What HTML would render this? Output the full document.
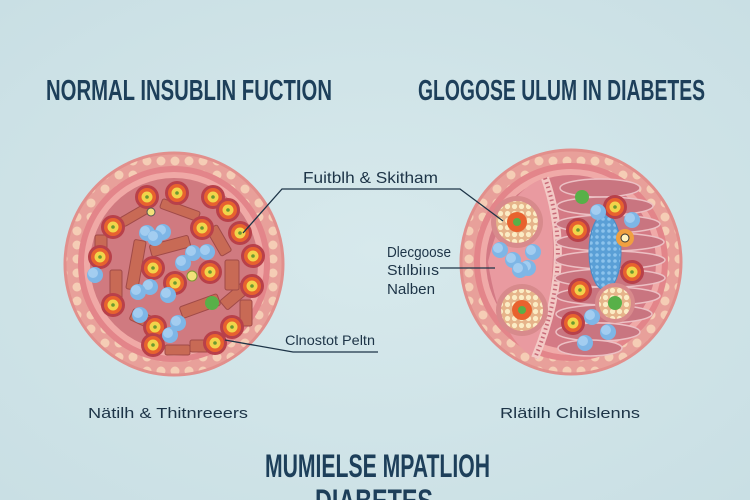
<!DOCTYPE html>
<html><head><meta charset="utf-8"><style>
html,body{margin:0;padding:0;background:#cfe3e7;}
svg{display:block}
</style></head><body>
<svg width="750" height="500" viewBox="0 0 750 500" xmlns="http://www.w3.org/2000/svg">
<defs>
<radialGradient id="bg" cx="50%" cy="50%" r="70%"><stop offset="0" stop-color="#d7e9ec"/><stop offset="1" stop-color="#c9dfe4"/></radialGradient>
<pattern id="bumps" width="14" height="14" patternUnits="userSpaceOnUse"><rect width="14" height="14" fill="#e8a09a"/><circle cx="7" cy="7" r="4.5" fill="#f5cdb5"/></pattern>
<pattern id="dots" width="6" height="6" patternUnits="userSpaceOnUse"><rect width="6" height="6" fill="#5a9fd6"/><circle cx="3" cy="3" r="1.8" fill="#8cc3ec"/></pattern>
<pattern id="ros" width="7" height="7" patternUnits="userSpaceOnUse"><rect width="7" height="7" fill="#e6b48a"/><circle cx="3.5" cy="3.5" r="2.6" fill="#fbecc4"/></pattern>
<g id="cell"><circle r="12" fill="#b8404a"/><circle r="9" fill="#e8622e"/><circle r="5.5" fill="#f2d44a"/><circle r="1.8" fill="#6a9a30"/></g>
<g id="blob"><circle r="8" fill="#7eb6e6"/><circle r="5" cx="-2" cy="-2" fill="#a3cdf0"/></g>
</defs>
<rect width="750" height="500" fill="url(#bg)"/>

<g font-family="'Liberation Sans Narrow','Liberation Sans',sans-serif" font-weight="bold" fill="#1d3f5a">
<text x="46" y="100" font-size="29" textLength="286" lengthAdjust="spacingAndGlyphs">NORMAL  INSUBLIN FUCTION</text>
<text x="418" y="100" font-size="29" textLength="287" lengthAdjust="spacingAndGlyphs">GLOGOSE ULUM IN DIABETES</text>
<text x="265" y="477" font-size="32" textLength="225" lengthAdjust="spacingAndGlyphs">MUMIELSE MPATLIOH</text>
<text x="315" y="512" font-size="32" textLength="118" lengthAdjust="spacingAndGlyphs">DIABETES</text>
</g>

<!-- LEFT CELL -->
<ellipse cx="174" cy="264" rx="109" ry="111" fill="url(#bumps)"/>
<ellipse cx="174" cy="264" rx="109" ry="111" fill="none" stroke="#e28f8c" stroke-width="3"/>
<ellipse cx="174" cy="264" rx="96" ry="98" fill="#e3858a"/>
<ellipse cx="174" cy="264" rx="90" ry="92" fill="#f0a9a6"/>
<ellipse cx="174" cy="264" rx="84" ry="86" fill="#d07a80"/>
<g fill="#c86a55" stroke="#a04a48" stroke-width="1">
<rect x="120" y="210" width="30" height="10" rx="2" transform="rotate(-30 135 215)"/>
<rect x="160" y="205" width="40" height="10" rx="2" transform="rotate(20 180 210)"/>
<rect x="205" y="235" width="30" height="12" rx="2" transform="rotate(60 220 240)"/>
<rect x="110" y="270" width="12" height="40" rx="2"/>
<rect x="130" y="240" width="12" height="50" rx="2" transform="rotate(10 136 265)"/>
<rect x="180" y="300" width="40" height="12" rx="2" transform="rotate(-20 200 306)"/>
<rect x="130" y="315" width="35" height="12" rx="2" transform="rotate(25 147 321)"/>
<rect x="220" y="290" width="30" height="12" rx="2" transform="rotate(-40 235 296)"/>
<rect x="190" y="340" width="30" height="12" rx="2"/>
<rect x="150" y="240" width="40" height="12" rx="2" transform="rotate(-15 170 246)"/>
<rect x="225" y="260" width="14" height="30" rx="2"/>
<rect x="165" y="345" width="25" height="10" rx="2"/>
<rect x="95" y="235" width="12" height="30" rx="2"/>
<rect x="240" y="300" width="12" height="26" rx="2"/>
</g>
<g>
<use href="#cell" x="147" y="197"/><use href="#cell" x="177" y="193"/><use href="#cell" x="213" y="197"/><use href="#cell" x="228" y="210"/>
<use href="#cell" x="113" y="227"/><use href="#cell" x="202" y="228"/><use href="#cell" x="240" y="233"/><use href="#cell" x="100" y="257"/>
<use href="#cell" x="253" y="256"/><use href="#cell" x="153" y="268"/><use href="#cell" x="210" y="272"/><use href="#cell" x="175" y="283"/>
<use href="#cell" x="252" y="286"/><use href="#cell" x="113" y="305"/><use href="#cell" x="232" y="327"/><use href="#cell" x="155" y="327"/>
<use href="#cell" x="153" y="345"/><use href="#cell" x="215" y="343"/>
</g>
<g>
<use href="#blob" x="147" y="233"/><use href="#blob" x="163" y="232"/><use href="#blob" x="155" y="238"/><use href="#blob" x="193" y="253"/><use href="#blob" x="207" y="252"/>
<use href="#blob" x="183" y="263"/><use href="#blob" x="95" y="275"/><use href="#blob" x="150" y="287"/><use href="#blob" x="138" y="292"/><use href="#blob" x="168" y="295"/>
<use href="#blob" x="140" y="315"/><use href="#blob" x="178" y="323"/><use href="#blob" x="170" y="335"/>
</g>
<circle cx="212" cy="303" r="7" fill="#58b048"/>
<circle cx="192" cy="276" r="5" fill="#f2e07a" stroke="#7a9a30"/>
<circle cx="151" cy="212" r="4" fill="#f2e07a" stroke="#555"/>

<!-- RIGHT CELL -->
<ellipse cx="571" cy="262" rx="110" ry="112" fill="url(#bumps)"/>
<ellipse cx="571" cy="262" rx="110" ry="112" fill="none" stroke="#e28f8c" stroke-width="3"/>
<ellipse cx="571" cy="262" rx="97" ry="99" fill="#e3858a"/>
<ellipse cx="571" cy="262" rx="91" ry="93" fill="#f0aaa8"/>
<ellipse cx="571" cy="262" rx="85" ry="87" fill="#d47a85"/>
<path d="M545 178 Q505 190 488 262 Q500 340 535 358 Q565 270 545 178Z" fill="#e99aa0"/>
<path d="M545 178 Q575 262 535 358" fill="none" stroke="#f3c9c5" stroke-width="8"/>
<path d="M545 178 Q575 262 535 358" fill="none" stroke="#c86a78" stroke-width="4" stroke-dasharray="1.5 3"/>
<g fill="#c97580" stroke="#ecc0c4" stroke-width="1.5">
<ellipse cx="600" cy="188" rx="40" ry="9"/><ellipse cx="605" cy="206" rx="48" ry="9"/><ellipse cx="608" cy="224" rx="52" ry="9"/>
<ellipse cx="610" cy="242" rx="54" ry="9"/><ellipse cx="610" cy="260" rx="55" ry="9"/><ellipse cx="610" cy="278" rx="55" ry="9"/>
<ellipse cx="608" cy="296" rx="52" ry="9"/><ellipse cx="604" cy="314" rx="48" ry="9"/><ellipse cx="598" cy="332" rx="42" ry="9"/><ellipse cx="590" cy="348" rx="32" ry="8"/>
</g>
<ellipse cx="605" cy="252" rx="16" ry="38" fill="url(#dots)" stroke="#4a8ac4"/>
<g>
<circle cx="517" cy="222" r="26" fill="#d88a8c"/><circle cx="517" cy="222" r="21" fill="url(#ros)"/><circle cx="517" cy="222" r="10" fill="#e8622e"/><circle cx="517" cy="222" r="4" fill="#58b048"/>
<circle cx="522" cy="310" r="26" fill="#d88a8c"/><circle cx="522" cy="310" r="21" fill="url(#ros)"/><circle cx="522" cy="310" r="10" fill="#e8622e"/><circle cx="522" cy="310" r="4" fill="#58b048"/>
<circle cx="615" cy="303" r="20" fill="#d88a8c"/><circle cx="615" cy="303" r="16" fill="url(#ros)"/><circle cx="615" cy="303" r="7" fill="#58b048"/>
</g>
<use href="#cell" x="615" y="207"/><use href="#cell" x="578" y="230"/><use href="#cell" x="632" y="272"/><use href="#cell" x="580" y="290"/><use href="#cell" x="573" y="323"/>
<circle cx="625" cy="238" r="9" fill="#f0a040"/><circle cx="625" cy="238" r="4" fill="#fff3c0" stroke="#333"/>
<use href="#blob" x="598" y="212"/><use href="#blob" x="632" y="220"/><use href="#blob" x="592" y="317"/><use href="#blob" x="608" y="332"/><use href="#blob" x="585" y="343"/>
<use href="#blob" x="500" y="250"/><use href="#blob" x="513" y="260"/><use href="#blob" x="533" y="252"/><use href="#blob" x="528" y="268"/><use href="#blob" x="520" y="270"/>
<circle cx="582" cy="197" r="7" fill="#58b048"/>

<!-- labels & leaders -->
<g fill="none" stroke="#1d3447" stroke-width="1.3">
<path d="M243 233 L282 189 L460 189 L503 221"/>
<path d="M440 268 L495 268"/>
<path d="M225 340 L293 352 L378 352"/>
</g>
<g font-family="'Liberation Sans',sans-serif" fill="#1d3447">
<text x="303" y="183" font-size="16" textLength="135" lengthAdjust="spacingAndGlyphs">Fuitblh &amp; Skitham</text>
<text x="387" y="257" font-size="15" textLength="64" lengthAdjust="spacingAndGlyphs">Dlecgoose</text>
<text x="387" y="275" font-size="15" textLength="52" lengthAdjust="spacingAndGlyphs">Stılbiııs</text>
<text x="387" y="294" font-size="15" textLength="48" lengthAdjust="spacingAndGlyphs">Nalben</text>
<text x="285" y="345" font-size="14" textLength="90" lengthAdjust="spacingAndGlyphs">Clnostot Peltn</text>
<text x="88" y="418" font-size="15" textLength="160" lengthAdjust="spacingAndGlyphs">Nätilh &amp; Thitnreeers</text>
<text x="500" y="418" font-size="15" textLength="140" lengthAdjust="spacingAndGlyphs">Rlätilh Chilslenns</text>
</g>
</svg>
</body></html>
